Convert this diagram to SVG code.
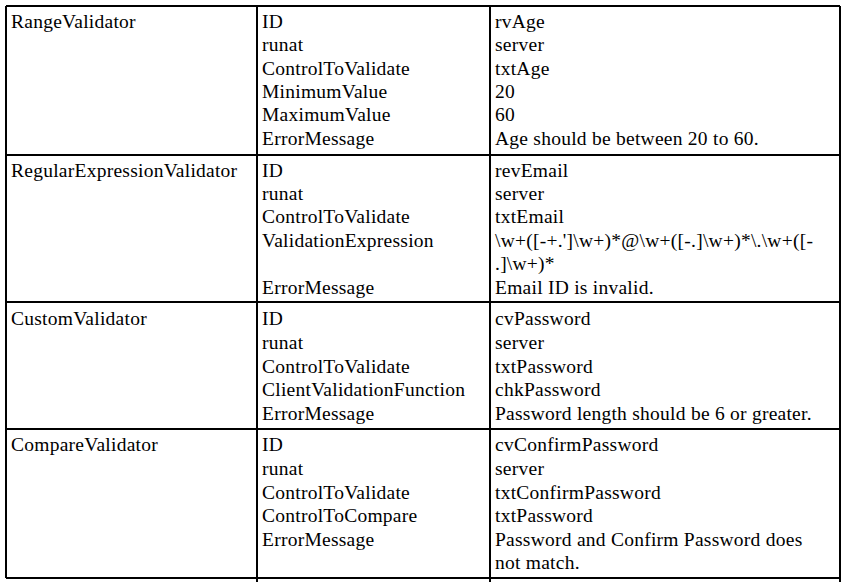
<svg xmlns="http://www.w3.org/2000/svg" width="846" height="582" viewBox="0 0 846 582">
<style>
text{font-family:"Liberation Serif","Times New Roman",serif;font-size:19.5px;letter-spacing:0.25px;fill:#000}
.b{stroke:#000;stroke-width:2;fill:none}
</style>
<rect width="846" height="582" fill="#fff"/>
<g id="grid">
<path class="b" d="M6 6H840M6 155H840M6 302H840M6 429H840M6 578H840M6 6V578M257 6V582M490 6V582M840 6V582"/>
</g>
<g id="row1">
<text x="11" y="28">RangeValidator</text>
<text x="262" y="28">ID</text><text x="262" y="51">runat</text><text x="262" y="75">ControlToValidate</text><text x="262" y="98">MinimumValue</text><text x="262" y="121">MaximumValue</text><text x="262" y="145">ErrorMessage</text>
<text x="495" y="28">rvAge</text><text x="495" y="51">server</text><text x="495" y="75">txtAge</text><text x="495" y="98">20</text><text x="495" y="121">60</text><text x="495" y="145">Age should be between 20 to 60.</text>
</g>
<g id="row2">
<text x="11" y="177">RegularExpressionValidator</text>
<text x="262" y="177">ID</text><text x="262" y="200">runat</text><text x="262" y="223">ControlToValidate</text><text x="262" y="247">ValidationExpression</text><text x="262" y="294">ErrorMessage</text>
<text x="495" y="177">revEmail</text><text x="495" y="200">server</text><text x="495" y="223">txtEmail</text><text x="495" y="247">\w+([-+.']\w+)*@\w+([-.]\w+)*\.\w+([-</text><text x="495" y="270">.]\w+)*</text><text x="495" y="294">Email ID is invalid.</text>
</g>
<g id="row3">
<text x="11" y="325">CustomValidator</text>
<text x="262" y="325">ID</text><text x="262" y="349">runat</text><text x="262" y="373">ControlToValidate</text><text x="262" y="396">ClientValidationFunction</text><text x="262" y="420">ErrorMessage</text>
<text x="495" y="325">cvPassword</text><text x="495" y="349">server</text><text x="495" y="373">txtPassword</text><text x="495" y="396">chkPassword</text><text x="495" y="420">Password length should be 6 or greater.</text>
</g>
<g id="row4">
<text x="11" y="451">CompareValidator</text>
<text x="262" y="451">ID</text><text x="262" y="475">runat</text><text x="262" y="499">ControlToValidate</text><text x="262" y="522">ControlToCompare</text><text x="262" y="546">ErrorMessage</text>
<text x="495" y="451">cvConfirmPassword</text><text x="495" y="475">server</text><text x="495" y="499">txtConfirmPassword</text><text x="495" y="522">txtPassword</text><text x="495" y="546">Password and Confirm Password does</text><text x="495" y="569">not match.</text>
</g>
</svg>
